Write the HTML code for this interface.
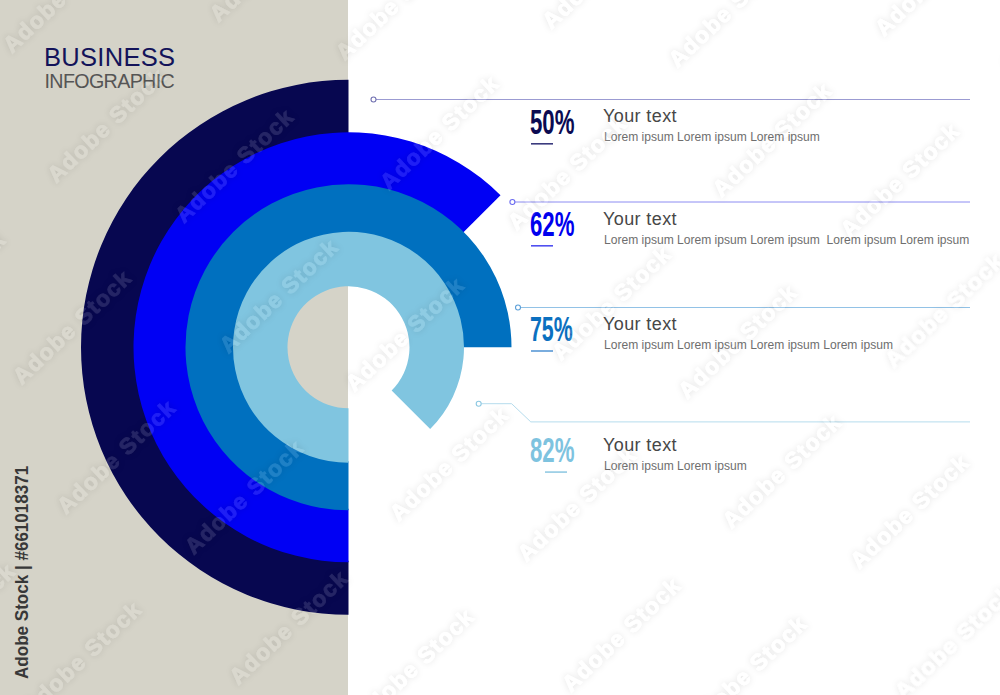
<!DOCTYPE html>
<html><head><meta charset="utf-8">
<style>
html,body{margin:0;padding:0;}
body{width:1000px;height:695px;position:relative;overflow:hidden;background:#fff;font-family:"Liberation Sans",sans-serif;}
.panel{position:absolute;left:0;top:0;width:348px;height:695px;background:#d5d3c8;}
svg.main{position:absolute;left:0;top:0;}
svg.wm{position:absolute;left:0;top:0;}
.t{position:absolute;white-space:nowrap;line-height:1;}
.title1{left:44px;top:45px;font-size:25.5px;color:#13135a;letter-spacing:0.3px;}
.title2{left:44.5px;top:71.5px;font-size:19.7px;color:#555;letter-spacing:-0.65px;}
.pct{font-size:35px;font-weight:bold;transform-origin:0 0;transform:scaleX(0.635);}
.yt{font-size:18px;letter-spacing:0.4px;color:#474747;}
.lo{font-size:12.07px;color:#6e6e6e;}
.vert{position:absolute;left:0;top:0;transform-origin:0 0;font-weight:bold;font-size:18px;line-height:1;color:#383838;white-space:nowrap;}
</style></head><body>
<div class="panel"></div>
<svg class="main" width="1000" height="695" viewBox="0 0 1000 695">
<path fill="#070750" d="M348.50 614.80 A267.50 267.50 0 0 1 81.00 347.30 A267.50 267.50 0 0 1 348.50 79.80 L348.50 133.80 A213.50 213.50 0 0 0 135.00 347.30 A213.50 213.50 0 0 0 348.50 560.80 Z"/>
<path fill="#0000f4" d="M348.50 562.30 A215.00 215.00 0 0 1 149.87 265.02 A215.00 215.00 0 0 1 500.53 195.27 L462.70 233.10 A161.50 161.50 0 0 0 199.29 285.50 A161.50 161.50 0 0 0 348.50 508.80 Z"/>
<path fill="#0070bf" d="M348.50 510.30 A163.00 163.00 0 0 1 233.24 232.04 A163.00 163.00 0 0 1 511.50 347.30 L462.50 347.30 A114.00 114.00 0 0 0 267.89 266.69 A114.00 114.00 0 0 0 348.50 461.30 Z"/>
<path fill="#80c5e0" d="M348.50 462.80 A115.50 115.50 0 0 1 304.30 240.59 A115.50 115.50 0 0 1 430.17 428.97 L391.63 390.43 A61.00 61.00 0 0 0 325.16 290.94 A61.00 61.00 0 0 0 348.50 408.30 Z"/>
<!-- connector lines -->
<g fill="none" stroke-width="1">
<line x1="376" y1="99.5" x2="970" y2="99.5" stroke="#9b9bd2"/>
<circle cx="373.5" cy="99.5" r="2.5" stroke="#7070b0" stroke-width="1.1" fill="#fff"/>
<line x1="515" y1="202" x2="970" y2="202" stroke="#8c8cf2"/>
<circle cx="512.4" cy="202" r="2.5" stroke="#6a6af0" stroke-width="1.1" fill="#fff"/>
<line x1="520.5" y1="307.5" x2="970" y2="307.5" stroke="#92c2e6"/>
<circle cx="518" cy="307.5" r="2.5" stroke="#5b9fd8" stroke-width="1.1" fill="#fff"/>
<polyline points="481.2,403.7 511.6,403.7 530.8,421.9 970,421.9" stroke="#b5dced"/>
<circle cx="478.7" cy="403.7" r="2.5" stroke="#8cc8e2" stroke-width="1.1" fill="#fff"/>
</g>
<!-- underlines -->
<rect x="531" y="143" width="22" height="1.6" fill="#3b3b7e"/>
<rect x="531" y="245" width="22" height="1.6" fill="#5050f0"/>
<rect x="531" y="350.2" width="22" height="1.6" fill="#5a9ad6"/>
<rect x="545" y="471.2" width="22" height="1.8" fill="#9fd0e6"/>
</svg>
<div class="t title1">BUSINESS</div>
<div class="t title2">INFOGRAPHIC</div>

<div class="t pct" style="left:530px;top:104px;color:#0b0b52;">50%</div>
<div class="t pct" style="left:530px;top:205.8px;color:#0000ee;">62%</div>
<div class="t pct" style="left:529.5px;top:310.9px;color:#0b70c0;transform:scaleX(0.61);">75%</div>
<div class="t pct" style="left:530px;top:431.8px;color:#7ec3df;">82%</div>

<div class="t yt" style="left:603px;top:107px;">Your text</div>
<div class="t lo" style="left:604px;top:131px;">Lorem ipsum Lorem ipsum Lorem ipsum</div>
<div class="t yt" style="left:603px;top:210px;">Your text</div>
<div class="t lo" style="left:604px;top:234px;">Lorem ipsum Lorem ipsum Lorem ipsum&nbsp; Lorem ipsum Lorem ipsum</div>
<div class="t yt" style="left:603px;top:315px;">Your text</div>
<div class="t lo" style="left:604px;top:339px;">Lorem ipsum Lorem ipsum Lorem ipsum Lorem ipsum</div>
<div class="t yt" style="left:603px;top:436px;">Your text</div>
<div class="t lo" style="left:604px;top:460px;">Lorem ipsum Lorem ipsum</div>

<div class="vert" style="transform:translate(13.2px,679px) rotate(-90deg) scaleX(0.947);">Adobe Stock | #661018371</div>
<svg class="wm" width="1000" height="695" viewBox="0 0 1000 695">
<defs><filter id="wmf" x="0" y="0" width="1000" height="695" filterUnits="userSpaceOnUse">
<feGaussianBlur in="SourceAlpha" stdDeviation="3.2" result="b"/>
<feComposite in="b" in2="SourceAlpha" operator="out" result="hm"/>
<feFlood flood-color="#000" flood-opacity="0.11" result="f"/>
<feComposite in="f" in2="hm" operator="in" result="halo"/>
<feColorMatrix in="SourceGraphic" type="matrix" values="1 0 0 0 0  0 1 0 0 0  0 0 1 0 0  0 0 0 0.12 0" result="let"/>
<feMerge><feMergeNode in="halo"/><feMergeNode in="let"/></feMerge>
</filter></defs>
<g filter="url(#wmf)" fill="#fff" stroke="#fff" stroke-width="0.7" font-family="Liberation Sans" font-weight="bold" font-size="22.5" letter-spacing="1.5">
<text transform="translate(12.0 54.0) rotate(-43.5)">Adobe Stock</text>
<text transform="translate(21.8 385.4) rotate(-43.5)">Adobe Stock</text>
<text transform="translate(31.6 716.8) rotate(-43.5)">Adobe Stock</text>
<text transform="translate(344.7 61.2) rotate(-43.5)">Adobe Stock</text>
<text transform="translate(354.5 392.6) rotate(-43.5)">Adobe Stock</text>
<text transform="translate(364.3 724.0) rotate(-43.5)">Adobe Stock</text>
<text transform="translate(677.4 68.4) rotate(-43.5)">Adobe Stock</text>
<text transform="translate(687.2 399.8) rotate(-43.5)">Adobe Stock</text>
<text transform="translate(697.0 731.2) rotate(-43.5)">Adobe Stock</text>
<text transform="translate(1010.1 75.6) rotate(-43.5)">Adobe Stock</text>
<text transform="translate(-114.1 15.7) rotate(-43.5)">Adobe Stock</text>
<text transform="translate(-104.3 347.1) rotate(-43.5)">Adobe Stock</text>
<text transform="translate(-94.5 678.5) rotate(-43.5)">Adobe Stock</text>
<text transform="translate(218.6 22.9) rotate(-43.5)">Adobe Stock</text>
<text transform="translate(228.4 354.3) rotate(-43.5)">Adobe Stock</text>
<text transform="translate(238.2 685.7) rotate(-43.5)">Adobe Stock</text>
<text transform="translate(551.3 30.1) rotate(-43.5)">Adobe Stock</text>
<text transform="translate(561.1 361.5) rotate(-43.5)">Adobe Stock</text>
<text transform="translate(570.9 692.9) rotate(-43.5)">Adobe Stock</text>
<text transform="translate(884.0 37.3) rotate(-43.5)">Adobe Stock</text>
<text transform="translate(893.8 368.7) rotate(-43.5)">Adobe Stock</text>
<text transform="translate(903.6 700.1) rotate(-43.5)">Adobe Stock</text>
<text transform="translate(56.2 183.7) rotate(-43.5)">Adobe Stock</text>
<text transform="translate(66.0 515.1) rotate(-43.5)">Adobe Stock</text>
<text transform="translate(388.9 190.9) rotate(-43.5)">Adobe Stock</text>
<text transform="translate(398.7 522.3) rotate(-43.5)">Adobe Stock</text>
<text transform="translate(721.6 198.1) rotate(-43.5)">Adobe Stock</text>
<text transform="translate(731.4 529.5) rotate(-43.5)">Adobe Stock</text>
<text transform="translate(184.0 224.0) rotate(-43.5)">Adobe Stock</text>
<text transform="translate(193.8 555.4) rotate(-43.5)">Adobe Stock</text>
<text transform="translate(516.7 231.2) rotate(-43.5)">Adobe Stock</text>
<text transform="translate(526.5 562.6) rotate(-43.5)">Adobe Stock</text>
<text transform="translate(849.4 238.4) rotate(-43.5)">Adobe Stock</text>
<text transform="translate(859.2 569.8) rotate(-43.5)">Adobe Stock</text>
</g></svg>
</body></html>
